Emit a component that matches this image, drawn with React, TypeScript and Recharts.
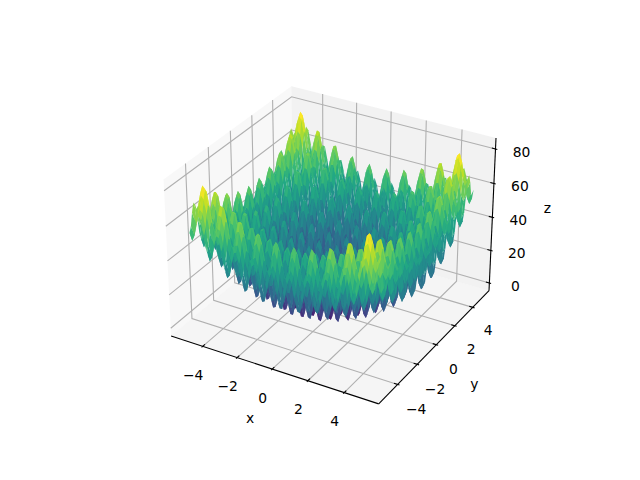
import React from 'react';
import { ScatterChart, Scatter, XAxis, YAxis } from 'recharts';

// Sampled surface heights along one grid direction, and the grid positions they belong to.
const gridPositions = [-5.12,-4.9797,-4.8395,-4.6992,-4.5589,-4.4186,-4.2784,-4.1381,-3.9978,-3.8575,-3.7173,-3.577,-3.4367,-3.2965,-3.1562,-3.0159,-2.8756,-2.7354,-2.5951,-2.4548,-2.3146,-2.1743,-2.034,-1.8937,-1.7535,-1.6132,-1.4729,-1.3327,-1.1924,-1.0521,-0.9118,-0.7716,-0.6313,-0.491,-0.3508,-0.2105,-0.0702,0.0702,0.2105,0.3508,0.491,0.6313,0.7716,0.9118,1.0521,1.1924,1.3327,1.4729,1.6132,1.7535,1.8937,2.034,2.1743,2.3146,2.4548,2.5951,2.7354,2.8756,3.0159,3.1562,3.2965,3.4367,3.577,3.7173,3.8575,3.9978,4.1381,4.2784,4.4186,4.5589,4.6992,4.8395,4.9797,5.12];
const heightProfile = [28.92,24.88,28.09,35.22,40.1,38.24,30.07,20.66,15.98,18.63,25.86,31.64,31.03,23.75,14.4,9.15,11.17,18.4,25,25.63,19.32,10.14,4.37,5.74,12.85,20.17,22.02,16.75,7.88,1.64,2.33,9.24,17.18,20.22,16.04,7.59,0.97,0.97,7.59,16.04,20.22,17.18,9.24,2.33,1.64,7.88,16.75,22.02,20.17,12.85,5.74,4.37,10.14,19.32,25.63,25,18.4,11.17,9.15,14.4,23.75,31.03,31.64,25.86,18.63,15.98,20.66,30.07,38.24,40.1,35.22,28.09,24.88,28.92];

const xyTicks = [-4, -2, 0, 2, 4];
const zTicks = [0, 20, 40, 60, 80];

const viridisStops = ['#440154','#482576','#414487','#355f8d','#2a788e','#21918c','#22a884','#43bf71','#7ad151','#bddf26','#fde725'];

const xyLim = [-5.632, 5.632];
const zLim = [-2.91, 84.45];
const pad = (l: number[]) => (l[1] - l[0]) / 48;
const X0 = xyLim[0] - pad(xyLim), X1 = xyLim[1] + pad(xyLim);
const Z0 = zLim[0] - pad(zLim), Z1 = zLim[1] + pad(zLim);

// Viewing geometry: elevation 30, azimuth -60, distance 10
const elev = (30 * Math.PI) / 180, azim = (-60 * Math.PI) / 180, dist = 10;
const k = 1.8294640721620434 / Math.sqrt(41);
const aspect = [4 * k, 4 * k, 3 * k];
const R = aspect.map((v) => v / 2);
const eye = [R[0] + dist * Math.cos(elev) * Math.cos(azim), R[1] + dist * Math.cos(elev) * Math.sin(azim), R[2] + dist * Math.sin(elev)];
const norm = (a: number[]) => { const n = Math.hypot(a[0], a[1], a[2]); return a.map((v) => v / n); };
const cross = (a: number[], b: number[]) => [a[1]*b[2]-a[2]*b[1], a[2]*b[0]-a[0]*b[2], a[0]*b[1]-a[1]*b[0]];
const dot = (a: number[], b: number[]) => a[0]*b[0]+a[1]*b[1]+a[2]*b[2];
const w = norm([eye[0]-R[0], eye[1]-R[1], eye[2]-R[2]]);
const u = norm(cross([0,0,1], w));
const v = cross(w, u);

function project(x: number, y: number, z: number) {
  const p = [
    ((x - xyLim[0]) / (xyLim[1] - xyLim[0])) * aspect[0] - eye[0],
    ((y - xyLim[0]) / (xyLim[1] - xyLim[0])) * aspect[1] - eye[1],
    ((z - zLim[0]) / (zLim[1] - zLim[0])) * aspect[2] - eye[2],
  ];
  const zv = dot(w, p);
  return { x: dot(u, p) / -zv, y: dot(v, p) / -zv, depth: dist / zv };
}

// Figure frame
const W = 640, H = 480, SIDE = 369.6;
const LO = -0.095, HI = 0.09;
const S = SIDE / (HI - LO);
const xDomain = [LO - 143.2 / S, HI + 127.2 / S];
const yDomain = [LO - 52.8 / S, HI + 57.6 / S];

type Item = { px: number; py: number; pts: number[][]; fill?: string; stroke?: string; sw?: number; text?: string };

function item(pts3: number[][], fill: string, stroke: string, sw: number): Item {
  const pts = pts3.map((p) => { const q = project(p[0], p[1], p[2]); return [q.x, q.y]; });
  return { px: pts[0][0], py: pts[0][1], pts, fill, stroke, sw };
}

const panes: Item[] = [
  item([[X0,X0,Z0],[X0,X1,Z0],[X0,X1,Z1],[X0,X0,Z1]], 'rgba(242,242,242,0.5)', 'none', 0),
  item([[X0,X1,Z0],[X1,X1,Z0],[X1,X1,Z1],[X0,X1,Z1]], 'rgba(230,230,230,0.5)', 'none', 0),
  item([[X0,X0,Z0],[X1,X0,Z0],[X1,X1,Z0],[X0,X1,Z0]], 'rgba(236,236,236,0.5)', 'none', 0),
];

const GRID = '#b0b0b0';
const grids: Item[] = [
  ...xyTicks.map((t) => item([[t,X0,Z0],[t,X1,Z0],[t,X1,Z1]], 'none', GRID, 1.1)),
  ...xyTicks.map((t) => item([[X1,t,Z0],[X0,t,Z0],[X0,t,Z1]], 'none', GRID, 1.1)),
  ...zTicks.map((t) => item([[X0,X0,t],[X0,X1,t],[X1,X1,t]], 'none', GRID, 1.1)),
];

const INK = '#000000';
const axesLines: Item[] = [
  item([[X0,X0,Z0],[X1,X0,Z0]], 'none', INK, 1.1),
  item([[X1,X0,Z0],[X1,X1,Z0]], 'none', INK, 1.1),
  item([[X1,X1,Z0],[X1,X1,Z1]], 'none', INK, 1.1),
  ...xyTicks.map((t) => item([[t,X0-0.1,Z0],[t,X0+0.2,Z0]], 'none', INK, 1.1)),
  ...xyTicks.map((t) => item([[X1+0.1,t,Z0],[X1-0.2,t,Z0]], 'none', INK, 1.1)),
  ...zTicks.map((t) => item([[X1+0.1,X1,t],[X1-0.2,X1,t]], 'none', INK, 1.1)),
];

function colorAt(t: number) {
  const f = Math.min(0.99999, Math.max(0, t)) * (viridisStops.length - 1);
  const i = Math.floor(f), r = f - i;
  const c = (h: string, o: number) => parseInt(h.slice(o, o + 2), 16);
  const mix = (o: number) => Math.round(c(viridisStops[i], o) * (1 - r) + c(viridisStops[i + 1], o) * r);
  return `rgb(${mix(1)},${mix(3)},${mix(5)})`;
}

const rawFaces: { pts3: number[][]; avg: number; depth: number }[] = [];
for (let i = 0; i < gridPositions.length - 1; i++) {
  for (let j = 0; j < gridPositions.length - 1; j++) {
    const corners = [[i,j],[i+1,j],[i+1,j+1],[i,j+1]].map(([a,b]) => [gridPositions[a], gridPositions[b], heightProfile[a] + heightProfile[b]]);
    const avg = corners.reduce((s, c) => s + c[2], 0) / 4;
    const depth = corners.reduce((s, c) => s + project(c[0], c[1], c[2]).depth, 0) / 4;
    rawFaces.push({ pts3: corners, avg, depth });
  }
}
const avgMin = rawFaces.reduce((m, f) => Math.min(m, f.avg), Infinity);
const avgMax = rawFaces.reduce((m, f) => Math.max(m, f.avg), -Infinity);
const surface: Item[] = rawFaces
  .sort((a, b) => b.depth - a.depth)
  .map((f) => { const c = colorAt((f.avg - avgMin) / (avgMax - avgMin)); return item(f.pts3, c, 'none', 0); });

function label(text: string, x: number, y: number, z: number, dx: number, dy: number): Item {
  const q = project(x, y, z);
  return { px: q.x + dx / S, py: q.y - dy / S, pts: [], text };
}
const fmt = (n: number) => String(n).replace('-', '\u2212');
const labels: Item[] = [
  ...xyTicks.map((t) => label(fmt(t), t, X0, Z0, -9.5, 28.5)),
  ...xyTicks.map((t) => label(fmt(t), X1, t, Z0, 17 - t * 0.375, 24 - t * 0.25)),
  ...zTicks.map((t) => label(fmt(t), X1, X1, t, 26, 2.5)),
  label('x', 0, X0, Z0, -22, 48.5),
  label('y', X1, 0, Z0, 38, 39),
  label('z', X1, X1, 40, 55, -9),
];

function PolyShape(props: any) {
  const { cx, cy, payload } = props;
  const d: Item = payload;
  const pts = d.pts.map((p) => `${cx + (p[0] - d.px) * S},${cy - (p[1] - d.py) * S}`).join(' ');
  return <polygon points={pts} fill={d.fill} stroke={d.stroke} strokeWidth={d.sw} />;
}
function LineShape(props: any) {
  const { cx, cy, payload } = props;
  const d: Item = payload;
  const pts = d.pts.map((p) => `${cx + (p[0] - d.px) * S},${cy - (p[1] - d.py) * S}`).join(' ');
  return <polyline points={pts} fill="none" stroke={d.stroke} strokeWidth={d.sw} />;
}
function TextShape(props: any) {
  const { cx, cy, payload } = props;
  return (
    <text x={cx} y={cy} textAnchor="middle" dominantBaseline="central" fontFamily="DejaVu Sans" fontSize={13.89} fill="#000">
      {payload.text}
    </text>
  );
}

export default function App() {
  return (
    <div style={{ position: 'absolute', left: 0, top: 0, width: W, height: H, background: '#fff' }}>
      <ScatterChart width={W} height={H} margin={{ top: 0, right: 0, bottom: 0, left: 0 }}>
        <XAxis type="number" dataKey="px" domain={xDomain} hide />
        <YAxis type="number" dataKey="py" domain={yDomain} hide />
        <Scatter data={panes} shape={PolyShape} isAnimationActive={false} />
        <Scatter data={grids} shape={LineShape} isAnimationActive={false} />
        <Scatter data={axesLines} shape={LineShape} isAnimationActive={false} />
        <Scatter data={surface} shape={PolyShape} isAnimationActive={false} />
        <Scatter data={labels} shape={TextShape} isAnimationActive={false} />
      </ScatterChart>
    </div>
  );
}
